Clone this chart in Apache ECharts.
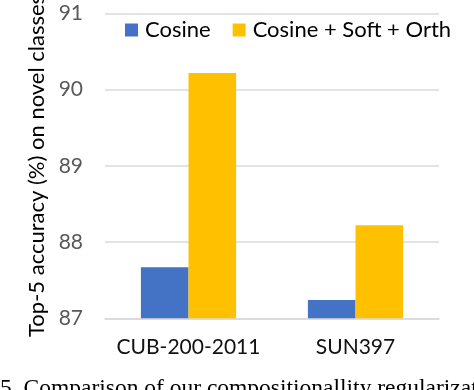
<!DOCTYPE html>
<html><head><meta charset="utf-8">
<script src="https://cdn.jsdelivr.net/npm/echarts@6/dist/echarts.min.js"></script>
<style>html,body{margin:0;padding:0;background:#fff}#c{width:474px;height:390px}</style>
</head><body><div id="c"></div>
<script>
const categories = ['CUB-200-2011', 'SUN397'];
const cosine = [87.67, 87.24];
const cosineSoftOrth = [90.22, 88.22];
const seriesNames = ['Cosine', 'Cosine + Soft + Orth'];
const yTicks = [87, 88, 89, 90, 91];
const yAxisTitle = 'Top-5 accuracy (%) on novel classes';
const caption = '5. Comparison of our compositionallity regularizat';

const chart = echarts.init(document.getElementById('c'), null, {renderer: 'canvas'});
const font = 'Lato';
chart.setOption({
  animation: false,
  grid: {left: 105, right: 35, top: 13.5, bottom: 71.7, containLabel: false, outerBoundsMode: 'none'},
  legend: {
    data: seriesNames, top: 14, left: 120, itemWidth: 13, itemHeight: 13, itemGap: 22,
    icon: 'rect',
    textStyle: {fontFamily: font, fontSize: 22, color: '#000', padding: [0,0,0,2]}
  },
  xAxis: {
    type: 'category', data: categories,
    axisLine: {show: true, lineStyle: {color: '#d9d9d9', width: 1.5}},
    axisTick: {show: false},
    axisLabel: {fontFamily: font, fontSize: 21, color: '#111', margin: 18, interval: 0}
  },
  yAxis: {
    type: 'value', min: yTicks[0], max: yTicks[yTicks.length-1], interval: 1,
    name: yAxisTitle, nameLocation: 'middle', nameGap: 52, nameRotate: 90,
    nameTextStyle: {fontFamily: font, fontSize: 22, color: '#000'},
    axisLine: {show: false}, axisTick: {show: false},
    axisLabel: {fontFamily: font, fontSize: 21, color: '#595959', margin: 22},
    splitLine: {lineStyle: {color: '#d9d9d9', width: 1.5}}
  },
  series: [
    {name: seriesNames[0], type: 'bar', data: cosine, barGap: '0%', barCategoryGap: '43%', itemStyle: {color: '#4472c4'}},
    {name: seriesNames[1], type: 'bar', data: cosineSoftOrth, barGap: '0%', barCategoryGap: '43%', itemStyle: {color: '#ffc000'}}
  ],
  graphic: [{
    type: 'text', left: 0, top: 377,
    style: {text: caption, font: '23.5px "Liberation Serif"', fill: '#000'}
  }]
});
</script></body></html>
